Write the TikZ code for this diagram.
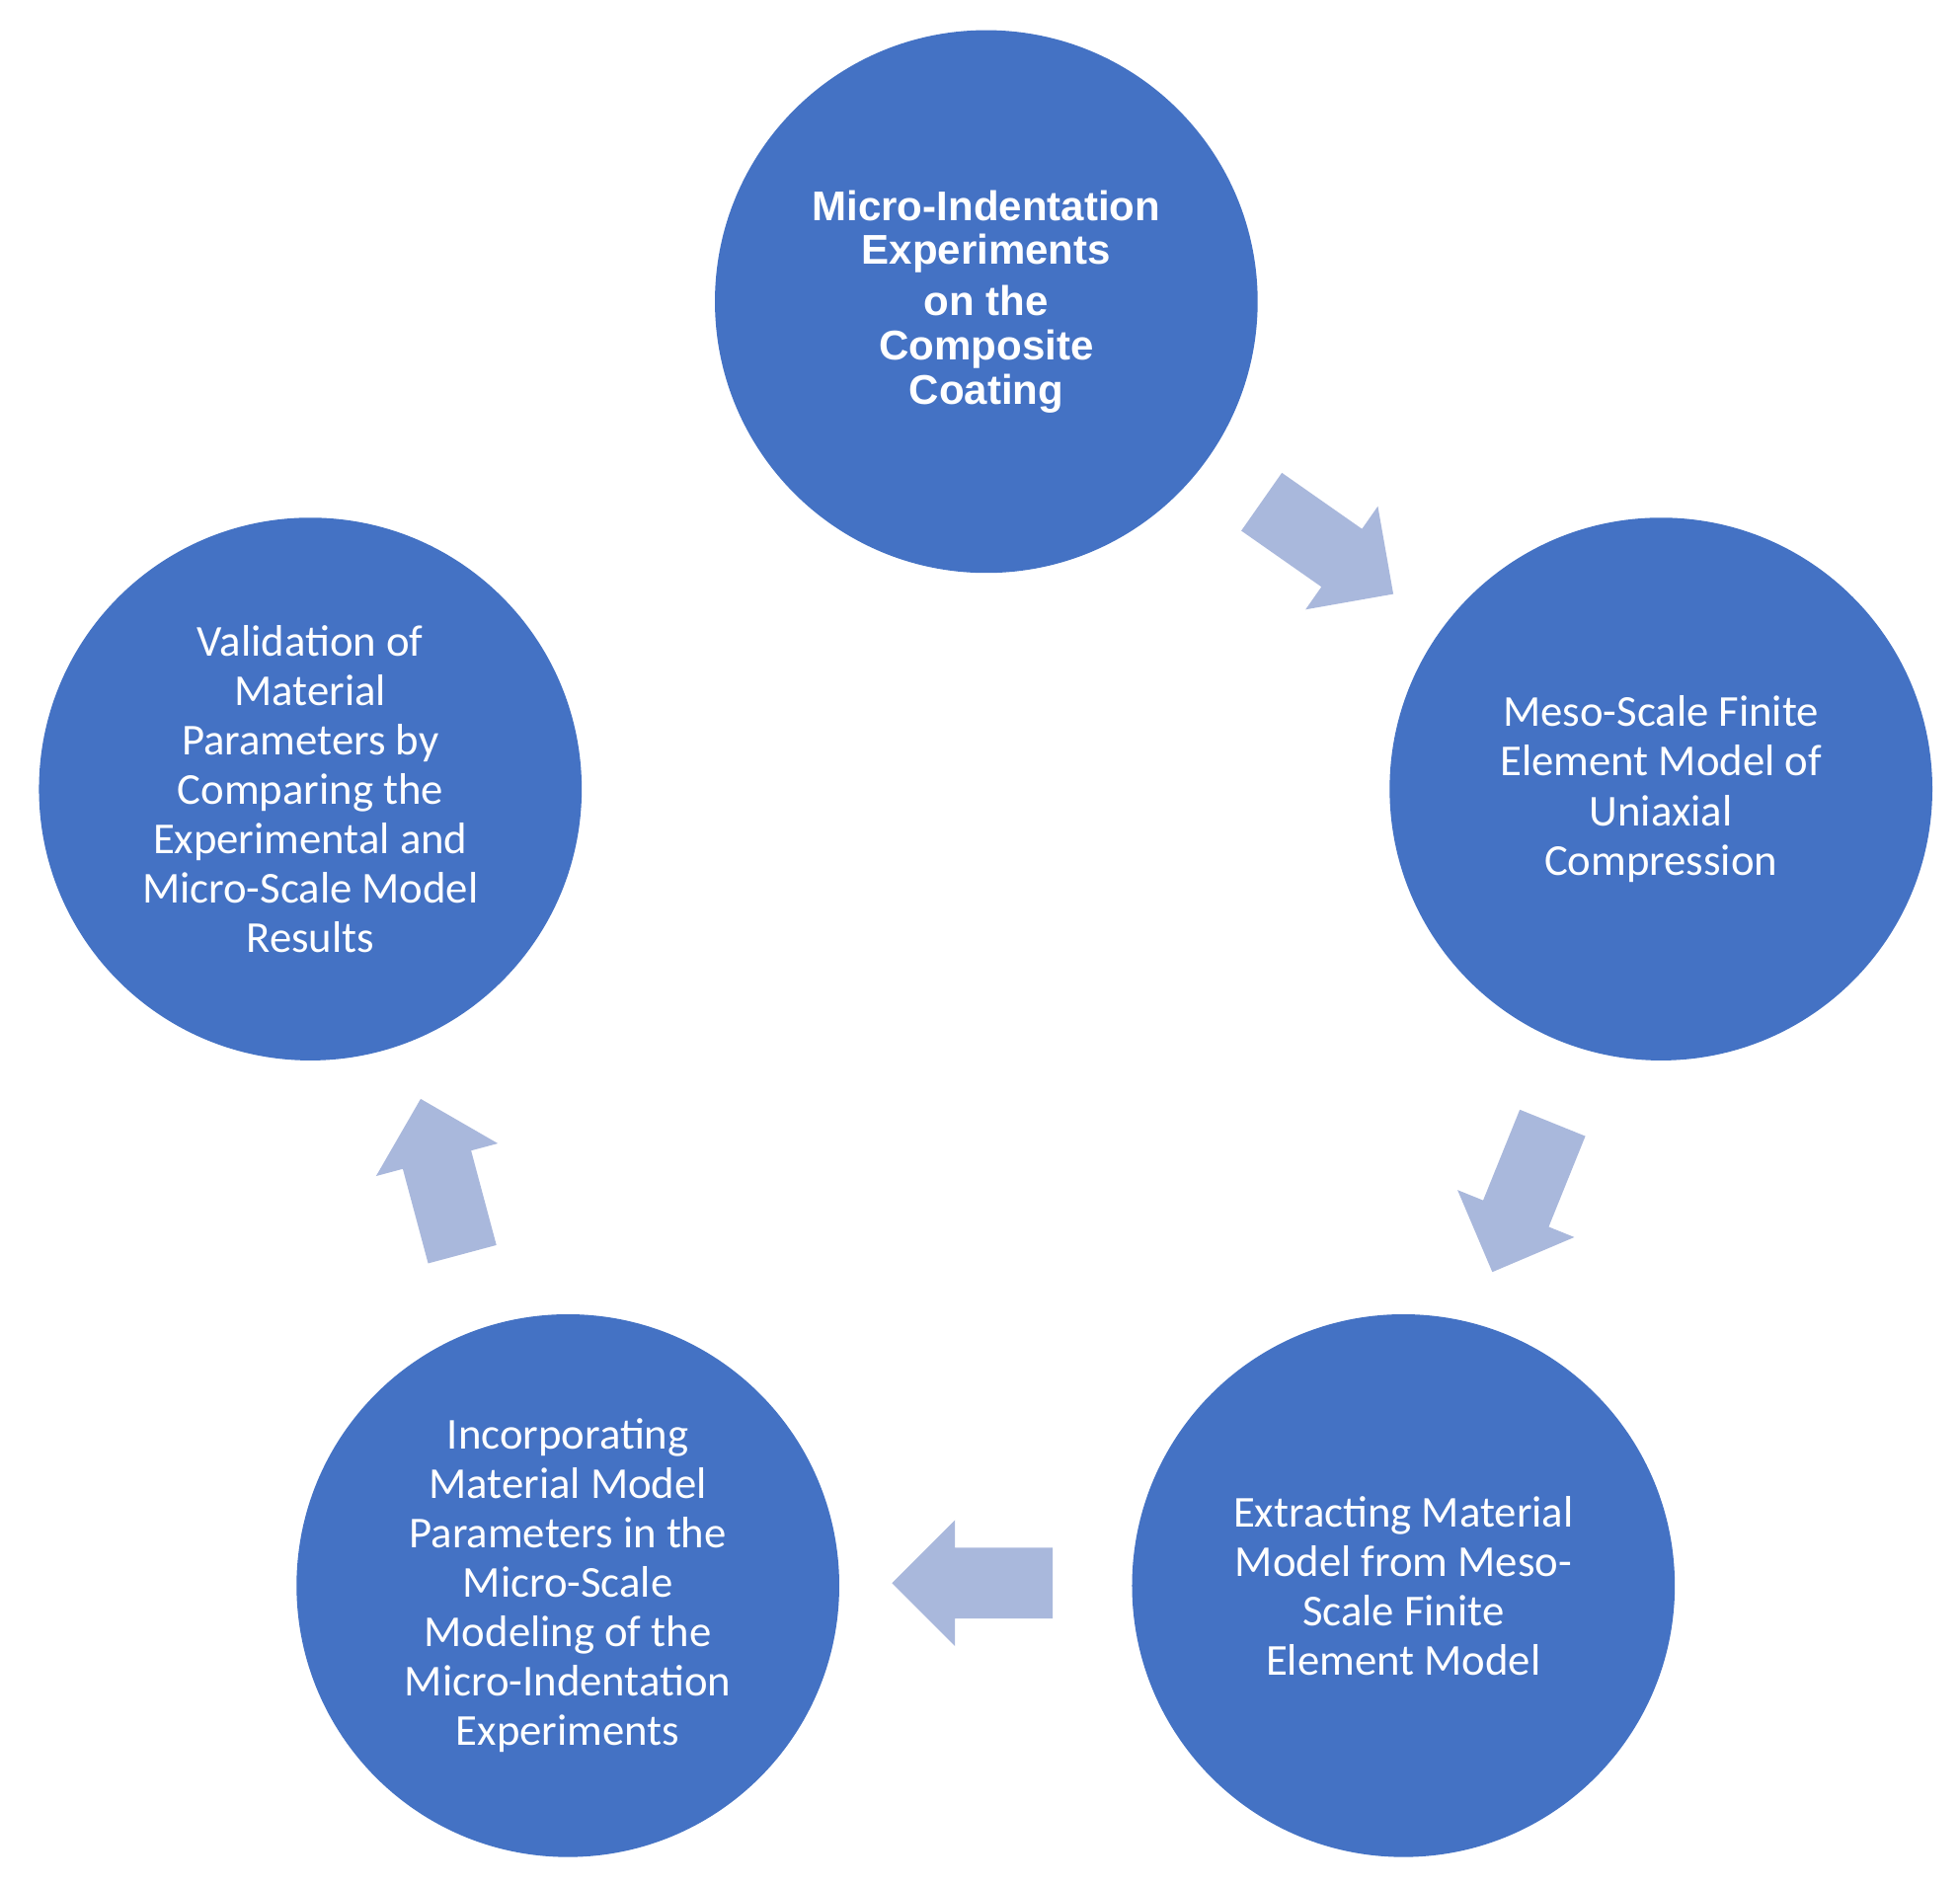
\documentclass[tikz,border=0pt]{standalone}
\usepackage{fontspec}
\setmainfont{Carlito}
\newfontfamily\topfont{Liberation Sans}
\usetikzlibrary{shapes.arrows}
\definecolor{cblue}{HTML}{4472C4}
\definecolor{ablue}{HTML}{A9B8DC}
\begin{document}
\begin{tikzpicture}[x=0.05cm,y=-0.05cm,
  stage/.style={circle,fill=cblue,minimum size=21.6cm,inner sep=0pt,text=white,align=center,
    font=\fontsize{50}{56}\selectfont},
  blockarrow/.style={single arrow,fill=ablue,draw=none,minimum height=6.4cm,minimum width=5cm,
    single arrow head extend=1.1cm,inner xsep=0pt,inner ysep=1.4cm}]
\fill[white] (0,0) rectangle (1560,1500);
\useasboundingbox (0,0) rectangle (1560,1500);
\node[stage,font=\topfont\fontsize{47}{50}\selectfont] (a) at (785,240) {\textbf{Micro-Indentation}\\\textbf{Experiments}\\[8pt]\textbf{on the}\\\textbf{Composite}\\\textbf{Coating}};
\node[stage] (b) at (1322,628) {Meso-Scale Finite\\Element Model of\\Uniaxial\\Compression};
\node[stage] (c) at (1117,1262) {Extracting Material\\Model from Meso-\\Scale Finite\\Element Model};
\node[stage] (d) at (452,1262) {Incorporating\\Material Model\\Parameters in the\\Micro-Scale\\Modeling of the\\Micro-Indentation\\Experiments};
\node[stage] (e) at (247,628) {Validation of\\Material\\Parameters by\\Comparing the\\Experimental and\\Micro-Scale Model\\Results};
\node[blockarrow,rotate=-35] (ab) at (1045,428) {};
\node[blockarrow,rotate=-112] (bc) at (1217,940) {};
\node[blockarrow,rotate=180] (cd) at (788,1260) {};
\node[blockarrow,rotate=105] (de) at (355,950) {};
\end{tikzpicture}
\end{document}
